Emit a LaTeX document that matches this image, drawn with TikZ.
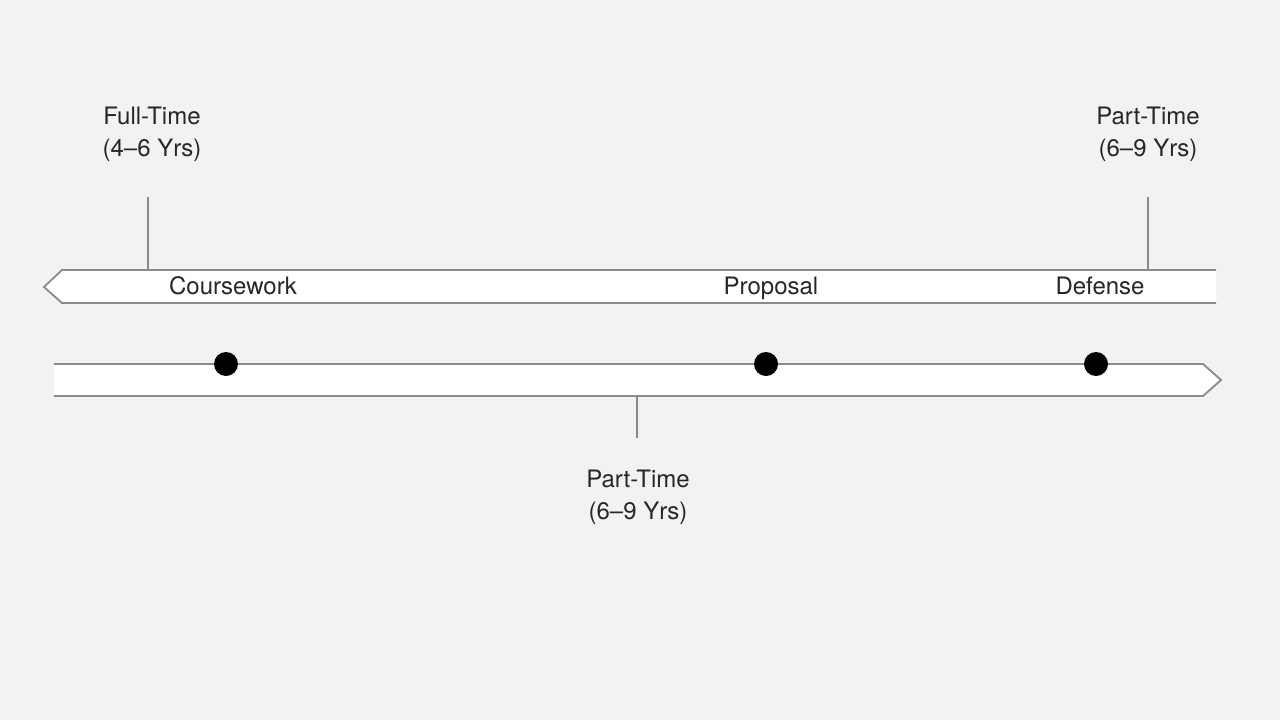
\documentclass[tikz,border=0pt]{standalone}
\usepackage{fontspec}
\setmainfont{TeX Gyre Heros}
\definecolor{bg}{HTML}{F1F2F4}
\definecolor{edge}{HTML}{8A8A8A}
\definecolor{ink}{HTML}{262626}
\begin{document}
\begin{tikzpicture}[x=1pt,y=-1pt,
  lab/.style={text=ink,font=\fontsize{24}{32}\selectfont,align=center,inner sep=0pt},
  blab/.style={lab,text height=17pt,text depth=5pt},
  band/.style={fill=white,draw=none},
  bandline/.style={draw=edge,line width=1.8pt,line join=miter},
  tick/.style={draw=edge,line width=1.6pt},
  dot/.style={circle,fill=black,minimum size=24pt,inner sep=0pt}]
\useasboundingbox[fill=bg] (0,0) rectangle (1280,720);
% top band (pointing left)
\fill[band] (1216,270) -- (62,270) -- (44,287) -- (62,303) -- (1216,303) -- cycle;
\draw[bandline] (1216,270) -- (62,270) -- (44,287) -- (62,303) -- (1216,303);
% bottom band (pointing right)
\fill[band] (54,364) -- (1203,364) -- (1221,380) -- (1203,396) -- (54,396) -- cycle;
\draw[bandline] (54,364) -- (1203,364) -- (1221,380) -- (1203,396) -- (54,396);
% dots
\node[dot] (d1) at (226,364) {};
\node[dot] (d2) at (766,364) {};
\node[dot] (d3) at (1096,364) {};
% band labels
\node[blab] (cw) at (233,288) {Coursework};
\node[blab] (pr) at (771,288) {Proposal};
\node[blab] (df) at (1100,288) {Defense};
% track labels
\node[lab] (ft) at (152,134) {Full-Time\\(4–6 Yrs)};
\node[lab] (pt1) at (1148,134) {Part-Time\\(6–9 Yrs)};
\node[lab] (pt2) at (638,497) {Part-Time\\(6–9 Yrs)};
% ticks
\coordinate (ftA) at (148,197); \coordinate (ftB) at (148,270);
\coordinate (ptA) at (1148,197); \coordinate (ptB) at (1148,270);
\coordinate (pbA) at (637,396); \coordinate (pbB) at (637,438);
\draw[tick] (ftA) -- (ftB);
\draw[tick] (ptA) -- (ptB);
\draw[tick] (pbA) -- (pbB);
\end{tikzpicture}
\end{document}
